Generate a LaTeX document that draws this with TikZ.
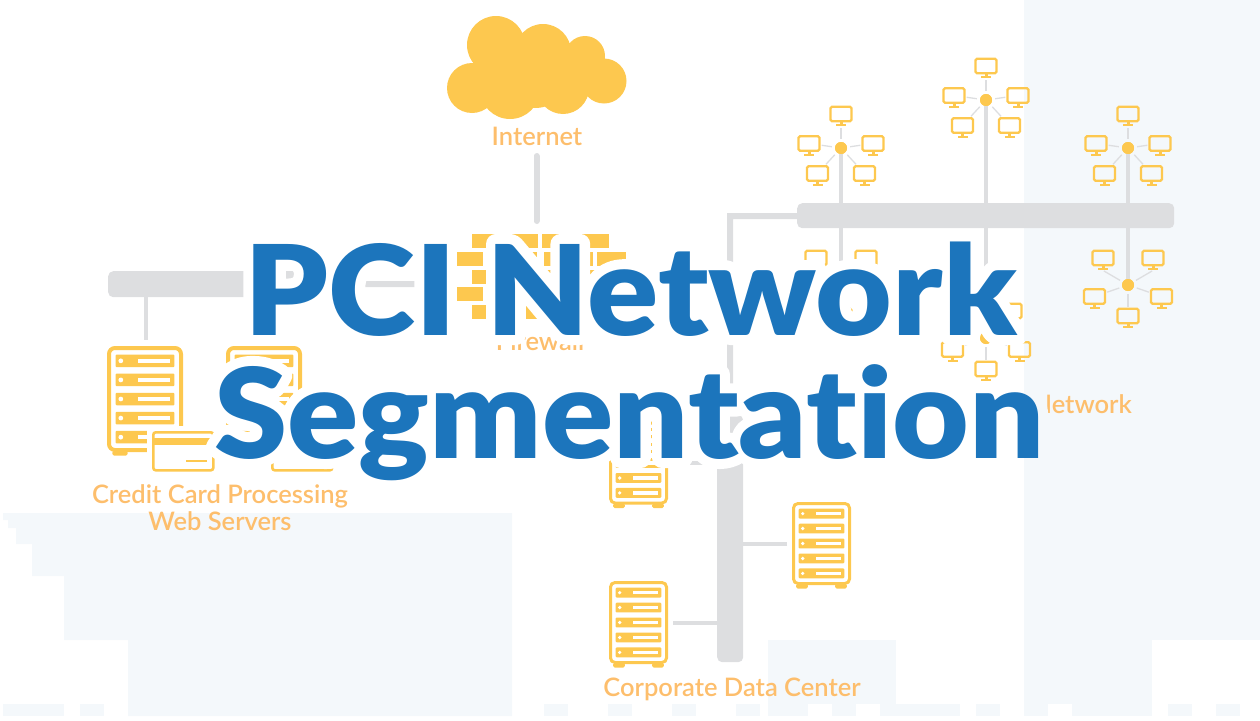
\documentclass[tikz,border=0pt]{standalone}
\usepackage{fontspec}
\setmainfont{Lato}
\newfontfamily\titlefont[FakeStretch=1.058,Ligatures=NoCommon]{Lato Black}
\newfontfamily\labelfont{Lato Semibold}
\usetikzlibrary{calc}
\definecolor{ylw}{HTML}{FDC84F}
\definecolor{lbl}{HTML}{FDBE6C}
\definecolor{gry}{HTML}{DDDEE0}
\definecolor{pale}{HTML}{F4F8FB}
\definecolor{ttl}{HTML}{1C75BC}
\tikzset{
  palebox/.style={fill=pale,draw=none},
  wire/.style={draw=gry,line width=6pt},
  thinwire/.style={draw=gry,line width=4pt},
  spoke/.style={draw=gry,line width=1.3pt,shorten >=1pt,shorten <=3pt},
  busbar/.style={fill=gry,draw=none,rounded corners=5pt,inner sep=0pt},
  hub/.style={circle,fill=ylw,draw=none,minimum size=12pt,inner sep=0pt},
  screenbox/.style={draw=ylw,line width=2.4pt,rounded corners=1.5pt,minimum width=21pt,minimum height=14.5pt,inner sep=0pt,fill=none},
  netlabel/.style={text=lbl,font=\labelfont\fontsize{25.5}{30}\selectfont,inner sep=0pt,anchor=base},
  headline/.style={font=\titlefont\fontsize{125}{125}\selectfont,inner sep=0pt,anchor=base west},
  brick/.style={fill=ylw,draw=none},
}
% monitor: name, centre of screen
\newcommand{\monitor}[3]{%
  \node[screenbox] (#1) at (#2,#3) {};
  \fill[ylw] ($(#1.south)+(-1.5,0)$) rectangle ($(#1.south)+(1.5,2.5)$);
  \fill[ylw] ($(#1.south)+(-5,2)$) rectangle ($(#1.south)+(5,3.6)$);
}
% star with hub: name, x, y
\newcommand{\starup}[3]{%
  \node[hub] (#1) at (#2,#3) {};
  \monitor{#1a}{#2}{#3-34}
  \monitor{#1b}{#2-32}{#3-4.5}
  \monitor{#1c}{#2+32}{#3-4.5}
  \monitor{#1d}{#2-23.5}{#3+25.5}
  \monitor{#1e}{#2+23.5}{#3+25.5}
  \draw[spoke] (#1) -- ($(#1a.south)+(0,5)$);
  \draw[spoke] (#1) -- (#1b);
  \draw[spoke] (#1) -- (#1c);
  \draw[spoke] (#1) -- (#1d);
  \draw[spoke] (#1) -- (#1e);
}
\newcommand{\stardown}[3]{%
  \node[hub] (#1) at (#2,#3) {};
  \monitor{#1a}{#2}{#3+31}
  \monitor{#1b}{#2-33.5}{#3+11.5}
  \monitor{#1c}{#2+33.5}{#3+11.5}
  \monitor{#1d}{#2-25}{#3-27}
  \monitor{#1e}{#2+25}{#3-27}
  \draw[spoke] (#1) -- (#1a);
  \draw[spoke] (#1) -- (#1b);
  \draw[spoke] (#1) -- (#1c);
  \draw[spoke] (#1) -- ($(#1d.south)+(0,4)$);
  \draw[spoke] (#1) -- ($(#1e.south)+(0,4)$);
}
% server: name, cx, cy, w, h, line width
\newcommand{\serverbar}[6]{%
  \pgfmathsetmacro{\bw}{0.776*#4}\pgfmathsetmacro{\bh}{0.118*#5}
  \pgfmathsetmacro{\by}{#3+#6*#5}
  \fill[ylw,rounded corners=1pt] ({#2-\bw/2},{\by-\bh/2}) rectangle ({#2+\bw/2},{\by+\bh/2});
  \fill[white] ({#2-\bw/2+0.38*\bw},{\by-0.17*\bh}) rectangle ({#2+\bw/2-0.08*\bw},{\by+0.17*\bh});
  \fill[white] ({#2-\bw/2+0.09*\bw},\by) circle ({0.19*\bh});
}
\newcommand{\serverbox}[6]{%
  \pgfmathsetmacro{\fx}{0.33*#4}
  \fill[ylw,rounded corners=1.5pt] ({#2-\fx-0.1*#4},{#3+#5/2-1}) rectangle ({#2-\fx+0.1*#4},{#3+#5/2+3.5});
  \fill[ylw,rounded corners=1.5pt] ({#2+\fx-0.1*#4},{#3+#5/2-1}) rectangle ({#2+\fx+0.1*#4},{#3+#5/2+3.5});
  \node[draw=ylw,fill=white,line width=#6pt,rounded corners=#6pt*1.5,minimum width=#4pt-#6pt,minimum height=#5pt-#6pt,inner sep=0pt] (#1) at (#2,#3) {};
  \serverbar{#1}{#2}{#3}{#4}{#5}{-0.36}
  \serverbar{#1}{#2}{#3}{#4}{#5}{-0.18}
  \serverbar{#1}{#2}{#3}{#4}{#5}{0}
  \serverbar{#1}{#2}{#3}{#4}{#5}{0.18}
  \serverbar{#1}{#2}{#3}{#4}{#5}{0.36}
}
\newcommand{\creditcard}[3]{%
  \fill[white,rounded corners=3pt] ($(#2,#3)+(-4,-4)$) rectangle ($(#2,#3)+(66,44)$);
  \node[draw=ylw,fill=white,line width=2.6pt,rounded corners=2.5pt,minimum width=60pt,minimum height=38pt,inner sep=0pt,anchor=north west] (#1) at (#2+1,#3+1) {};
  \fill[ylw] (#2+1,#3+8) rectangle (#2+61,#3+15);
  \fill[ylw] (#2+35,#3+30) rectangle (#2+56,#3+32.4);
}
% halo text: stroke colour as r g b, fill colour name, text
\newcommand{\halotext}[3]{%
  \special{pdf:code 1 Tr 20 w 1 J 1 j #1 RG}\textcolor{#2}{#3}\special{pdf:code 0 Tr 1 w}}
\begin{document}
\begin{tikzpicture}[x=1pt,y=-1pt]
\useasboundingbox (0,0) rectangle (1260,720);
% background tiles
\fill[palebox] (1024,0) rectangle (1260,640);
\fill[palebox] (1024,640) rectangle (1152,716);
\fill[palebox] (768,640) rectangle (896,716);
\fill[palebox] (3,513) -- (512,513) -- (512,716) -- (128,716) -- (128,640) -- (64,640) -- (64,576) -- (32,576) -- (32,544) -- (16,544) -- (16,528) -- (8,528) -- (8,520) -- (3,520) -- cycle;
\foreach \a/\b in {3/64,80/104,152/176,544/568,608/632,672/696,736/760,896/960,976/1000,1168/1192,1216/1240}
  \fill[palebox] (\a,704) rectangle (\b,716);
\foreach \a/\b in {808/832,856/880,1048/1072}
  \fill[white] (\a,704) rectangle (\b,716);
% cloud
\fill[ylw] (496,45) circle (29) (543,52) circle (28) (585,56) circle (20) (604,81) circle (22.5) (472,88) circle (25) (510,89) circle (30) (563,88) circle (26) (535,72) circle (36);
\node[netlabel] (internet) at (537,145) {Internet};
% internet - firewall
\coordinate (netfoot) at (536.5,156);
\coordinate (fwhead) at (536.5,221);
\draw[wire,line cap=round] (netfoot) -- (fwhead);
% firewall
\foreach \y in {234,270,305} {
  \fill[brick] (472,\y) rectangle (538,\y+14);
  \fill[brick] (542,\y) rectangle (609,\y+14);
}
\foreach \y in {252,287} {
  \fill[brick] (454,\y) rectangle (483,\y+14);
  \fill[brick] (487,\y) rectangle (537,\y+14);
  \fill[brick] (544,\y) rectangle (593,\y+14);
  \fill[brick] (597,\y) rectangle (626,\y+14);
}
\node[netlabel] (firewall) at (540,350) {Firewall};
% left branch
\node[busbar,minimum width=192pt,minimum height=26pt,anchor=north west] (leftbus) at (108,271) {};
\coordinate (fwleft) at (454,284);
\draw[wire] (leftbus) -- (fwleft);
\serverbox{srvA}{145}{399}{76}{106}{4}
\serverbox{srvB}{264}{399}{76}{106}{4}
\coordinate (srvAtop) at (146,340);
\draw[thinwire] (leftbus.south -| srvAtop) -- (srvAtop);
\creditcard{cardA}{151}{430}
\creditcard{cardB}{270}{430}
\node[netlabel] (cclabel) at (220,503) {Credit Card Processing};
\node[netlabel] (wslabel) at (220,530) {Web Servers};
% top bus and stars
\node[busbar,minimum width=377pt,minimum height=25pt,anchor=north west] (topbus) at (797,203) {};
\node[busbar,minimum width=26pt,minimum height=247pt,anchor=north west] (dcbus) at (717,415) {};
\coordinate (elbow) at (730,216);
\draw[wire] (topbus.west |- elbow) -- (elbow) -- (dcbus.north);
\stardown{sC}{841}{285}
\stardown{sD}{986}{338}
\stardown{sE}{1128}{285}
\starup{sA}{841}{148}
\starup{sB}{986}{100}
\starup{sF}{1128}{148}
\draw[thinwire] (sA) -- (sC);
\draw[thinwire] (sB) -- (sD);
\draw[thinwire] (sF) -- (sE);
\node[hub] at (sA) {};\node[hub] at (sB) {};\node[hub] at (sF) {};\node[hub] at (sC) {};\node[hub] at (sD) {};\node[hub] at (sE) {};
\node[netlabel,anchor=base east] (netlabel) at (1132,413) {Network};
% data centre
\serverbox{srvC}{638.5}{463}{59}{83}{3}
\serverbox{srvD}{638.5}{622.5}{59}{83}{3}
\serverbox{srvE}{821.5}{543.5}{59}{83}{3}
\draw[thinwire] (srvC.east) ++(5,0) coordinate (cEnd) -- (dcbus.west |- cEnd);
\draw[thinwire] (srvD.east) ++(5,0) coordinate (dEnd) -- (dcbus.west |- dEnd);
\draw[thinwire] (srvE.west) ++(-5,0) coordinate (eEnd) -- (dcbus.east |- eEnd);
\node[netlabel] (dclabel) at (732,696) {Corporate Data Center};
% title: white halo on the white field, pale halo on the pale field
\begin{scope}
  \clip (0,0) rectangle (1024,720);
  \node[headline,text=white] (haloA) at (244,335) {\halotext{1 1 1}{white}{PCI Network}};
  \node[headline,text=white] (haloB) at (214,458) {\halotext{1 1 1}{white}{Segmentation}};
\end{scope}
\begin{scope}
  \clip (1024,0) rectangle (1260,720);
  \node[headline,text=pale] (haloC) at (244,335) {\halotext{0.957 0.973 0.984}{pale}{PCI Network}};
  \node[headline,text=pale] (haloD) at (214,458) {\halotext{0.957 0.973 0.984}{pale}{Segmentation}};
\end{scope}
\node[headline,text=ttl] (titleA) at (244,335) {PCI Network};
\node[headline,text=ttl] (titleB) at (214,458) {Segmentation};
\end{tikzpicture}
\end{document}
